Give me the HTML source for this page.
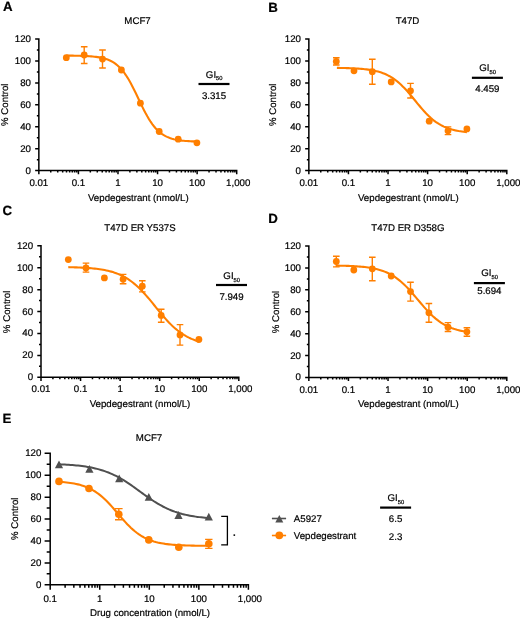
<!DOCTYPE html>
<html><head><meta charset="utf-8"><style>
html,body{margin:0;padding:0;background:#fff;}
svg{display:block;will-change:transform;}
text{font-family:"Liberation Sans",sans-serif;fill:#000;text-rendering:geometricPrecision;stroke:#000;stroke-width:0.2px;}
</style></head><body>
<svg width="520" height="619" viewBox="0 0 520 619">
<rect width="520" height="619" fill="#fff"/>
<path d="M38.85,38.35V171.35M35.15,170.60H38.85M36.85,159.64H38.85M35.15,148.68H38.85M36.85,137.72H38.85M35.15,126.77H38.85M36.85,115.81H38.85M35.15,104.85H38.85M36.85,93.89H38.85M35.15,82.93H38.85M36.85,71.97H38.85M35.15,61.02H38.85M36.85,50.06H38.85M35.15,39.10H38.85M38.10,170.60H237.45M38.85,170.60V174.20M50.76,170.60V172.60M57.73,170.60V172.60M62.67,170.60V172.60M66.51,170.60V172.60M69.64,170.60V172.60M72.29,170.60V172.60M74.59,170.60V172.60M76.61,170.60V172.60M78.42,170.60V174.20M90.33,170.60V172.60M97.30,170.60V172.60M102.24,170.60V172.60M106.08,170.60V172.60M109.21,170.60V172.60M111.86,170.60V172.60M114.16,170.60V172.60M116.18,170.60V172.60M117.99,170.60V174.20M129.90,170.60V172.60M136.87,170.60V172.60M141.81,170.60V172.60M145.65,170.60V172.60M148.78,170.60V172.60M151.43,170.60V172.60M153.73,170.60V172.60M155.75,170.60V172.60M157.56,170.60V174.20M169.47,170.60V172.60M176.44,170.60V172.60M181.38,170.60V172.60M185.22,170.60V172.60M188.35,170.60V172.60M191.00,170.60V172.60M193.30,170.60V172.60M195.32,170.60V172.60M197.13,170.60V174.20M209.04,170.60V172.60M216.01,170.60V172.60M220.95,170.60V172.60M224.79,170.60V172.60M227.92,170.60V172.60M230.57,170.60V172.60M232.87,170.60V172.60M234.89,170.60V172.60M236.70,170.60V174.20" stroke="#000" stroke-width="1.5" fill="none"/>
<text x="30.95" y="173.60" font-size="9.7" text-anchor="end">0</text>
<text x="30.95" y="151.68" font-size="9.7" text-anchor="end">20</text>
<text x="30.95" y="129.77" font-size="9.7" text-anchor="end">40</text>
<text x="30.95" y="107.85" font-size="9.7" text-anchor="end">60</text>
<text x="30.95" y="85.93" font-size="9.7" text-anchor="end">80</text>
<text x="30.95" y="64.02" font-size="9.7" text-anchor="end">100</text>
<text x="30.95" y="42.10" font-size="9.7" text-anchor="end">120</text>
<text x="38.85" y="185.70" font-size="9.7" text-anchor="middle">0.01</text>
<text x="78.42" y="185.70" font-size="9.7" text-anchor="middle">0.1</text>
<text x="117.99" y="185.70" font-size="9.7" text-anchor="middle">1</text>
<text x="157.56" y="185.70" font-size="9.7" text-anchor="middle">10</text>
<text x="197.13" y="185.70" font-size="9.7" text-anchor="middle">100</text>
<text x="238.20" y="185.70" font-size="9.7" text-anchor="middle">1,000</text>
<path d="M308.85,38.35V171.35M305.15,170.60H308.85M306.85,159.64H308.85M305.15,148.68H308.85M306.85,137.72H308.85M305.15,126.77H308.85M306.85,115.81H308.85M305.15,104.85H308.85M306.85,93.89H308.85M305.15,82.93H308.85M306.85,71.97H308.85M305.15,61.02H308.85M306.85,50.06H308.85M305.15,39.10H308.85M308.10,170.60H507.55M308.85,170.60V174.20M320.77,170.60V172.60M327.74,170.60V172.60M332.69,170.60V172.60M336.52,170.60V172.60M339.66,170.60V172.60M342.31,170.60V172.60M344.60,170.60V172.60M346.63,170.60V172.60M348.44,170.60V174.20M360.36,170.60V172.60M367.33,170.60V172.60M372.28,170.60V172.60M376.11,170.60V172.60M379.25,170.60V172.60M381.90,170.60V172.60M384.19,170.60V172.60M386.22,170.60V172.60M388.03,170.60V174.20M399.95,170.60V172.60M406.92,170.60V172.60M411.87,170.60V172.60M415.70,170.60V172.60M418.84,170.60V172.60M421.49,170.60V172.60M423.78,170.60V172.60M425.81,170.60V172.60M427.62,170.60V174.20M439.54,170.60V172.60M446.51,170.60V172.60M451.46,170.60V172.60M455.29,170.60V172.60M458.43,170.60V172.60M461.08,170.60V172.60M463.37,170.60V172.60M465.40,170.60V172.60M467.21,170.60V174.20M479.13,170.60V172.60M486.10,170.60V172.60M491.05,170.60V172.60M494.88,170.60V172.60M498.02,170.60V172.60M500.67,170.60V172.60M502.96,170.60V172.60M504.99,170.60V172.60M506.80,170.60V174.20" stroke="#000" stroke-width="1.5" fill="none"/>
<text x="300.95" y="173.60" font-size="9.7" text-anchor="end">0</text>
<text x="300.95" y="151.68" font-size="9.7" text-anchor="end">20</text>
<text x="300.95" y="129.77" font-size="9.7" text-anchor="end">40</text>
<text x="300.95" y="107.85" font-size="9.7" text-anchor="end">60</text>
<text x="300.95" y="85.93" font-size="9.7" text-anchor="end">80</text>
<text x="300.95" y="64.02" font-size="9.7" text-anchor="end">100</text>
<text x="300.95" y="42.10" font-size="9.7" text-anchor="end">120</text>
<text x="308.85" y="185.70" font-size="9.7" text-anchor="middle">0.01</text>
<text x="348.44" y="185.70" font-size="9.7" text-anchor="middle">0.1</text>
<text x="388.03" y="185.70" font-size="9.7" text-anchor="middle">1</text>
<text x="427.62" y="185.70" font-size="9.7" text-anchor="middle">10</text>
<text x="467.21" y="185.70" font-size="9.7" text-anchor="middle">100</text>
<text x="508.30" y="185.70" font-size="9.7" text-anchor="middle">1,000</text>
<path d="M41.00,245.05V378.05M37.30,377.30H41.00M39.00,366.34H41.00M37.30,355.38H41.00M39.00,344.43H41.00M37.30,333.47H41.00M39.00,322.51H41.00M37.30,311.55H41.00M39.00,300.59H41.00M37.30,289.63H41.00M39.00,278.68H41.00M37.30,267.72H41.00M39.00,256.76H41.00M37.30,245.80H41.00M40.25,377.30H239.55M41.00,377.30V380.90M52.91,377.30V379.30M59.87,377.30V379.30M64.82,377.30V379.30M68.65,377.30V379.30M71.78,377.30V379.30M74.43,377.30V379.30M76.73,377.30V379.30M78.75,377.30V379.30M80.56,377.30V380.90M92.47,377.30V379.30M99.43,377.30V379.30M104.38,377.30V379.30M108.21,377.30V379.30M111.34,377.30V379.30M113.99,377.30V379.30M116.29,377.30V379.30M118.31,377.30V379.30M120.12,377.30V380.90M132.03,377.30V379.30M138.99,377.30V379.30M143.94,377.30V379.30M147.77,377.30V379.30M150.90,377.30V379.30M153.55,377.30V379.30M155.85,377.30V379.30M157.87,377.30V379.30M159.68,377.30V380.90M171.59,377.30V379.30M178.55,377.30V379.30M183.50,377.30V379.30M187.33,377.30V379.30M190.46,377.30V379.30M193.11,377.30V379.30M195.41,377.30V379.30M197.43,377.30V379.30M199.24,377.30V380.90M211.15,377.30V379.30M218.11,377.30V379.30M223.06,377.30V379.30M226.89,377.30V379.30M230.02,377.30V379.30M232.67,377.30V379.30M234.97,377.30V379.30M236.99,377.30V379.30M238.80,377.30V380.90" stroke="#000" stroke-width="1.5" fill="none"/>
<text x="33.10" y="380.30" font-size="9.7" text-anchor="end">0</text>
<text x="33.10" y="358.38" font-size="9.7" text-anchor="end">20</text>
<text x="33.10" y="336.47" font-size="9.7" text-anchor="end">40</text>
<text x="33.10" y="314.55" font-size="9.7" text-anchor="end">60</text>
<text x="33.10" y="292.63" font-size="9.7" text-anchor="end">80</text>
<text x="33.10" y="270.72" font-size="9.7" text-anchor="end">100</text>
<text x="33.10" y="248.80" font-size="9.7" text-anchor="end">120</text>
<text x="41.00" y="392.40" font-size="9.7" text-anchor="middle">0.01</text>
<text x="80.56" y="392.40" font-size="9.7" text-anchor="middle">0.1</text>
<text x="120.12" y="392.40" font-size="9.7" text-anchor="middle">1</text>
<text x="159.68" y="392.40" font-size="9.7" text-anchor="middle">10</text>
<text x="199.24" y="392.40" font-size="9.7" text-anchor="middle">100</text>
<text x="240.30" y="392.40" font-size="9.7" text-anchor="middle">1,000</text>
<path d="M308.85,245.35V378.15M305.15,377.40H308.85M306.85,366.46H308.85M305.15,355.52H308.85M306.85,344.57H308.85M305.15,333.63H308.85M306.85,322.69H308.85M305.15,311.75H308.85M306.85,300.81H308.85M305.15,289.87H308.85M306.85,278.93H308.85M305.15,267.98H308.85M306.85,257.04H308.85M305.15,246.10H308.85M308.10,377.40H507.55M308.85,377.40V381.00M320.77,377.40V379.40M327.74,377.40V379.40M332.69,377.40V379.40M336.52,377.40V379.40M339.66,377.40V379.40M342.31,377.40V379.40M344.60,377.40V379.40M346.63,377.40V379.40M348.44,377.40V381.00M360.36,377.40V379.40M367.33,377.40V379.40M372.28,377.40V379.40M376.11,377.40V379.40M379.25,377.40V379.40M381.90,377.40V379.40M384.19,377.40V379.40M386.22,377.40V379.40M388.03,377.40V381.00M399.95,377.40V379.40M406.92,377.40V379.40M411.87,377.40V379.40M415.70,377.40V379.40M418.84,377.40V379.40M421.49,377.40V379.40M423.78,377.40V379.40M425.81,377.40V379.40M427.62,377.40V381.00M439.54,377.40V379.40M446.51,377.40V379.40M451.46,377.40V379.40M455.29,377.40V379.40M458.43,377.40V379.40M461.08,377.40V379.40M463.37,377.40V379.40M465.40,377.40V379.40M467.21,377.40V381.00M479.13,377.40V379.40M486.10,377.40V379.40M491.05,377.40V379.40M494.88,377.40V379.40M498.02,377.40V379.40M500.67,377.40V379.40M502.96,377.40V379.40M504.99,377.40V379.40M506.80,377.40V381.00" stroke="#000" stroke-width="1.5" fill="none"/>
<text x="300.95" y="380.40" font-size="9.7" text-anchor="end">0</text>
<text x="300.95" y="358.52" font-size="9.7" text-anchor="end">20</text>
<text x="300.95" y="336.63" font-size="9.7" text-anchor="end">40</text>
<text x="300.95" y="314.75" font-size="9.7" text-anchor="end">60</text>
<text x="300.95" y="292.87" font-size="9.7" text-anchor="end">80</text>
<text x="300.95" y="270.98" font-size="9.7" text-anchor="end">100</text>
<text x="300.95" y="249.10" font-size="9.7" text-anchor="end">120</text>
<text x="308.85" y="392.50" font-size="9.7" text-anchor="middle">0.01</text>
<text x="348.44" y="392.50" font-size="9.7" text-anchor="middle">0.1</text>
<text x="388.03" y="392.50" font-size="9.7" text-anchor="middle">1</text>
<text x="427.62" y="392.50" font-size="9.7" text-anchor="middle">10</text>
<text x="467.21" y="392.50" font-size="9.7" text-anchor="middle">100</text>
<text x="508.30" y="392.50" font-size="9.7" text-anchor="middle">1,000</text>
<path d="M50.20,452.55V585.55M44.60,584.80H50.20M46.70,573.84H50.20M44.60,562.88H50.20M46.70,551.92H50.20M44.60,540.97H50.20M46.70,530.01H50.20M44.60,519.05H50.20M46.70,508.09H50.20M44.60,497.13H50.20M46.70,486.18H50.20M44.60,475.22H50.20M46.70,464.26H50.20M44.60,453.30H50.20M49.45,584.80H249.15M50.20,584.80V589.70M65.12,584.80V587.70M73.84,584.80V587.70M80.03,584.80V587.70M84.83,584.80V587.70M88.76,584.80V587.70M92.07,584.80V587.70M94.95,584.80V587.70M97.48,584.80V587.70M99.75,584.80V589.70M114.67,584.80V587.70M123.39,584.80V587.70M129.58,584.80V587.70M134.38,584.80V587.70M138.31,584.80V587.70M141.62,584.80V587.70M144.50,584.80V587.70M147.03,584.80V587.70M149.30,584.80V589.70M164.22,584.80V587.70M172.94,584.80V587.70M179.13,584.80V587.70M183.93,584.80V587.70M187.86,584.80V587.70M191.17,584.80V587.70M194.05,584.80V587.70M196.58,584.80V587.70M198.85,584.80V589.70M213.77,584.80V587.70M222.49,584.80V587.70M228.68,584.80V587.70M233.48,584.80V587.70M237.41,584.80V587.70M240.72,584.80V587.70M243.60,584.80V587.70M246.13,584.80V587.70M248.40,584.80V589.70" stroke="#000" stroke-width="1.5" fill="none"/>
<text x="41.40" y="587.80" font-size="9.7" text-anchor="end">0</text>
<text x="41.40" y="565.88" font-size="9.7" text-anchor="end">20</text>
<text x="41.40" y="543.97" font-size="9.7" text-anchor="end">40</text>
<text x="41.40" y="522.05" font-size="9.7" text-anchor="end">60</text>
<text x="41.40" y="500.13" font-size="9.7" text-anchor="end">80</text>
<text x="41.40" y="478.22" font-size="9.7" text-anchor="end">100</text>
<text x="41.40" y="456.30" font-size="9.7" text-anchor="end">120</text>
<text x="50.20" y="602.10" font-size="9.7" text-anchor="middle">0.1</text>
<text x="99.75" y="602.10" font-size="9.7" text-anchor="middle">1</text>
<text x="149.30" y="602.10" font-size="9.7" text-anchor="middle">10</text>
<text x="198.85" y="602.10" font-size="9.7" text-anchor="middle">100</text>
<text x="249.90" y="602.10" font-size="9.7" text-anchor="middle">1,000</text>
<text x="3.00" y="11.40" font-size="13.3" font-weight="bold">A</text>
<text x="268.20" y="11.70" font-size="13.3" font-weight="bold">B</text>
<text x="2.60" y="215.40" font-size="13.3" font-weight="bold">C</text>
<text x="268.20" y="222.50" font-size="13.3" font-weight="bold">D</text>
<text x="2.50" y="422.50" font-size="13.3" font-weight="bold">E</text>
<text x="137.50" y="24.00" font-size="9.7" text-anchor="middle">MCF7</text>
<text x="407.50" y="23.90" font-size="9.7" text-anchor="middle">T47D</text>
<text x="140.00" y="230.70" font-size="9.7" text-anchor="middle">T47D ER Y537S</text>
<text x="407.90" y="230.70" font-size="9.7" text-anchor="middle">T47D ER D358G</text>
<text x="149.00" y="441.30" font-size="9.7" text-anchor="middle">MCF7</text>
<text x="138.30" y="200.80" font-size="9.7" text-anchor="middle">Vepdegestrant (nmol/L)</text>
<text x="408.30" y="200.80" font-size="9.7" text-anchor="middle">Vepdegestrant (nmol/L)</text>
<text x="140.00" y="407.00" font-size="9.7" text-anchor="middle">Vepdegestrant (nmol/L)</text>
<text x="408.30" y="407.00" font-size="9.7" text-anchor="middle">Vepdegestrant (nmol/L)</text>
<text x="150.00" y="616.40" font-size="9.7" text-anchor="middle">Drug concentration (nmol/L)</text>
<text x="8.20" y="104.80" font-size="9.7" text-anchor="middle" transform="rotate(-90 8.20 104.80)">% Control</text>
<text x="276.50" y="104.80" font-size="9.7" text-anchor="middle" transform="rotate(-90 276.50 104.80)">% Control</text>
<text x="10.40" y="311.90" font-size="9.7" text-anchor="middle" transform="rotate(-90 10.40 311.90)">% Control</text>
<text x="278.70" y="312.00" font-size="9.7" text-anchor="middle" transform="rotate(-90 278.70 312.00)">% Control</text>
<text x="18.20" y="518.80" font-size="9.7" text-anchor="middle" transform="rotate(-90 18.20 518.80)">% Control</text>
<path d="M66.30,55.59 L67.95,55.60 L69.61,55.61 L71.26,55.63 L72.91,55.65 L74.57,55.68 L76.22,55.71 L77.87,55.74 L79.53,55.78 L81.18,55.83 L82.83,55.89 L84.48,55.95 L86.14,56.03 L87.79,56.12 L89.44,56.23 L91.10,56.35 L92.75,56.50 L94.40,56.67 L96.06,56.87 L97.71,57.10 L99.36,57.37 L101.02,57.69 L102.67,58.06 L104.32,58.50 L105.98,59.00 L107.63,59.58 L109.28,60.25 L110.94,61.03 L112.59,61.93 L114.24,62.95 L115.89,64.13 L117.55,65.46 L119.20,66.98 L120.85,68.68 L122.51,70.58 L124.16,72.70 L125.81,75.03 L127.47,77.57 L129.12,80.33 L130.77,83.28 L132.43,86.40 L134.08,89.67 L135.73,93.05 L137.39,96.51 L139.04,99.99 L140.69,103.45 L142.35,106.86 L144.00,110.16 L145.65,113.32 L147.31,116.31 L148.96,119.11 L150.61,121.71 L152.26,124.09 L153.92,126.26 L155.57,128.21 L157.22,129.96 L158.88,131.51 L160.53,132.89 L162.18,134.10 L163.84,135.16 L165.49,136.09 L167.14,136.89 L168.80,137.59 L170.45,138.19 L172.10,138.71 L173.76,139.16 L175.41,139.54 L177.06,139.87 L178.72,140.16 L180.37,140.40 L182.02,140.61 L183.67,140.78 L185.33,140.93 L186.98,141.06 L188.63,141.17 L190.29,141.27 L191.94,141.35 L193.59,141.42 L195.25,141.47 L196.90,141.52" stroke="#FF7F00" stroke-width="2.1" fill="none"/>
<path d="M84.20,46.70V63.50M80.90,46.70H87.50M80.90,63.50H87.50" stroke="#FF7F00" stroke-width="1.4" fill="none"/>
<path d="M102.50,50.00V68.00M99.20,50.00H105.80M99.20,68.00H105.80" stroke="#FF7F00" stroke-width="1.4" fill="none"/>
<circle cx="66.30" cy="57.70" r="3.4" fill="#FF7F00"/>
<circle cx="84.20" cy="55.00" r="3.4" fill="#FF7F00"/>
<circle cx="102.50" cy="59.10" r="3.4" fill="#FF7F00"/>
<circle cx="121.40" cy="70.00" r="3.4" fill="#FF7F00"/>
<circle cx="140.40" cy="103.20" r="3.4" fill="#FF7F00"/>
<circle cx="159.20" cy="131.50" r="3.4" fill="#FF7F00"/>
<circle cx="178.20" cy="139.20" r="3.4" fill="#FF7F00"/>
<circle cx="196.90" cy="142.80" r="3.4" fill="#FF7F00"/>
<text x="214.20" y="77.50" font-size="9.7" text-anchor="middle">GI<tspan font-size="5.8" dy="2.9">50</tspan></text>
<rect x="198.50" y="82.90" width="31" height="2.2" fill="#000"/>
<text x="214.00" y="98.50" font-size="9.7" text-anchor="middle">3.315</text>
<path d="M336.90,67.89 L338.55,67.91 L340.19,67.94 L341.84,67.97 L343.48,68.01 L345.13,68.05 L346.77,68.09 L348.42,68.15 L350.06,68.20 L351.71,68.27 L353.36,68.35 L355.00,68.43 L356.65,68.52 L358.29,68.63 L359.94,68.75 L361.58,68.89 L363.23,69.04 L364.87,69.21 L366.52,69.40 L368.17,69.62 L369.81,69.86 L371.46,70.14 L373.10,70.44 L374.75,70.78 L376.39,71.16 L378.04,71.59 L379.68,72.07 L381.33,72.59 L382.98,73.18 L384.62,73.83 L386.27,74.55 L387.91,75.34 L389.56,76.21 L391.20,77.16 L392.85,78.20 L394.49,79.33 L396.14,80.55 L397.79,81.86 L399.43,83.28 L401.08,84.78 L402.72,86.38 L404.37,88.06 L406.01,89.83 L407.66,91.67 L409.31,93.57 L410.95,95.52 L412.60,97.50 L414.24,99.51 L415.89,101.53 L417.53,103.54 L419.18,105.53 L420.82,107.48 L422.47,109.39 L424.12,111.23 L425.76,113.00 L427.41,114.69 L429.05,116.30 L430.70,117.81 L432.34,119.23 L433.99,120.55 L435.63,121.78 L437.28,122.92 L438.93,123.96 L440.57,124.92 L442.22,125.79 L443.86,126.59 L445.51,127.31 L447.15,127.97 L448.80,128.56 L450.44,129.09 L452.09,129.57 L453.74,130.00 L455.38,130.39 L457.03,130.73 L458.67,131.04 L460.32,131.31 L461.96,131.56 L463.61,131.78 L465.25,131.97 L466.90,132.14" stroke="#FF7F00" stroke-width="2.1" fill="none"/>
<path d="M336.30,57.70V65.00M333.00,57.70H339.60M333.00,65.00H339.60" stroke="#FF7F00" stroke-width="1.4" fill="none"/>
<path d="M372.30,59.20V84.20M369.00,59.20H375.60M369.00,84.20H375.60" stroke="#FF7F00" stroke-width="1.4" fill="none"/>
<path d="M410.50,83.40V98.00M407.20,83.40H413.80M407.20,98.00H413.80" stroke="#FF7F00" stroke-width="1.4" fill="none"/>
<path d="M448.00,126.90V134.60M444.70,126.90H451.30M444.70,134.60H451.30" stroke="#FF7F00" stroke-width="1.4" fill="none"/>
<circle cx="336.30" cy="61.50" r="3.4" fill="#FF7F00"/>
<circle cx="354.00" cy="70.80" r="3.4" fill="#FF7F00"/>
<circle cx="372.30" cy="71.70" r="3.4" fill="#FF7F00"/>
<circle cx="391.20" cy="81.90" r="3.4" fill="#FF7F00"/>
<circle cx="410.50" cy="90.80" r="3.4" fill="#FF7F00"/>
<circle cx="429.20" cy="121.20" r="3.4" fill="#FF7F00"/>
<circle cx="448.00" cy="130.80" r="3.4" fill="#FF7F00"/>
<circle cx="466.90" cy="128.90" r="3.4" fill="#FF7F00"/>
<text x="487.60" y="70.60" font-size="9.7" text-anchor="middle">GI<tspan font-size="5.8" dy="2.9">50</tspan></text>
<rect x="471.90" y="76.70" width="31" height="2.2" fill="#000"/>
<text x="487.40" y="92.00" font-size="9.7" text-anchor="middle">4.459</text>
<path d="M68.30,267.16 L69.95,267.20 L71.61,267.24 L73.26,267.28 L74.91,267.34 L76.57,267.39 L78.22,267.46 L79.87,267.53 L81.53,267.60 L83.18,267.69 L84.83,267.78 L86.48,267.89 L88.14,268.00 L89.79,268.13 L91.44,268.27 L93.10,268.43 L94.75,268.60 L96.40,268.79 L98.06,269.00 L99.71,269.23 L101.36,269.48 L103.02,269.76 L104.67,270.07 L106.32,270.41 L107.98,270.78 L109.63,271.18 L111.28,271.63 L112.94,272.11 L114.59,272.65 L116.24,273.23 L117.89,273.86 L119.55,274.55 L121.20,275.30 L122.85,276.11 L124.51,276.99 L126.16,277.94 L127.81,278.96 L129.47,280.06 L131.12,281.24 L132.77,282.49 L134.43,283.83 L136.08,285.24 L137.73,286.74 L139.39,288.31 L141.04,289.96 L142.69,291.69 L144.35,293.48 L146.00,295.33 L147.65,297.24 L149.31,299.19 L150.96,301.19 L152.61,303.21 L154.26,305.25 L155.92,307.29 L157.57,309.33 L159.22,311.36 L160.88,313.36 L162.53,315.33 L164.18,317.26 L165.84,319.13 L167.49,320.94 L169.14,322.69 L170.80,324.37 L172.45,325.97 L174.10,327.49 L175.76,328.93 L177.41,330.29 L179.06,331.58 L180.72,332.78 L182.37,333.90 L184.02,334.95 L185.67,335.92 L187.33,336.82 L188.98,337.66 L190.63,338.43 L192.29,339.14 L193.94,339.79 L195.59,340.39 L197.25,340.94 L198.90,341.44" stroke="#FF7F00" stroke-width="2.1" fill="none"/>
<path d="M86.00,263.10V272.10M82.70,263.10H89.30M82.70,272.10H89.30" stroke="#FF7F00" stroke-width="1.4" fill="none"/>
<path d="M123.10,274.40V283.70M119.80,274.40H126.40M119.80,283.70H126.40" stroke="#FF7F00" stroke-width="1.4" fill="none"/>
<path d="M142.30,280.80V291.90M139.00,280.80H145.60M139.00,291.90H145.60" stroke="#FF7F00" stroke-width="1.4" fill="none"/>
<path d="M161.20,309.20V322.30M157.90,309.20H164.50M157.90,322.30H164.50" stroke="#FF7F00" stroke-width="1.4" fill="none"/>
<path d="M180.00,324.60V345.10M176.70,324.60H183.30M176.70,345.10H183.30" stroke="#FF7F00" stroke-width="1.4" fill="none"/>
<circle cx="68.30" cy="259.60" r="3.4" fill="#FF7F00"/>
<circle cx="86.00" cy="267.90" r="3.4" fill="#FF7F00"/>
<circle cx="104.40" cy="277.90" r="3.4" fill="#FF7F00"/>
<circle cx="123.10" cy="279.20" r="3.4" fill="#FF7F00"/>
<circle cx="142.30" cy="286.20" r="3.4" fill="#FF7F00"/>
<circle cx="161.20" cy="315.40" r="3.4" fill="#FF7F00"/>
<circle cx="180.00" cy="334.90" r="3.4" fill="#FF7F00"/>
<circle cx="198.90" cy="339.50" r="3.4" fill="#FF7F00"/>
<text x="231.70" y="278.95" font-size="9.7" text-anchor="middle">GI<tspan font-size="5.8" dy="2.9">50</tspan></text>
<rect x="216.00" y="283.90" width="31" height="2.2" fill="#000"/>
<text x="231.50" y="299.50" font-size="9.7" text-anchor="middle">7.949</text>
<path d="M336.90,265.61 L338.55,265.64 L340.19,265.68 L341.84,265.72 L343.48,265.76 L345.13,265.80 L346.77,265.86 L348.42,265.92 L350.06,265.98 L351.71,266.06 L353.36,266.14 L355.00,266.23 L356.65,266.34 L358.29,266.45 L359.94,266.58 L361.58,266.73 L363.23,266.89 L364.87,267.07 L366.52,267.27 L368.17,267.49 L369.81,267.74 L371.46,268.01 L373.10,268.32 L374.75,268.66 L376.39,269.04 L378.04,269.46 L379.68,269.92 L381.33,270.43 L382.98,270.99 L384.62,271.61 L386.27,272.29 L387.91,273.03 L389.56,273.84 L391.20,274.73 L392.85,275.69 L394.49,276.73 L396.14,277.85 L397.79,279.06 L399.43,280.35 L401.08,281.73 L402.72,283.20 L404.37,284.74 L406.01,286.37 L407.66,288.07 L409.31,289.84 L410.95,291.66 L412.60,293.54 L414.24,295.45 L415.89,297.39 L417.53,299.35 L419.18,301.30 L420.82,303.25 L422.47,305.18 L424.12,307.07 L425.76,308.91 L427.41,310.70 L429.05,312.43 L430.70,314.08 L432.34,315.66 L433.99,317.16 L435.63,318.57 L437.28,319.90 L438.93,321.14 L440.57,322.29 L442.22,323.36 L443.86,324.35 L445.51,325.27 L447.15,326.11 L448.80,326.88 L450.44,327.58 L452.09,328.22 L453.74,328.80 L455.38,329.33 L457.03,329.81 L458.67,330.24 L460.32,330.64 L461.96,330.99 L463.61,331.31 L465.25,331.60 L466.90,331.86" stroke="#FF7F00" stroke-width="2.1" fill="none"/>
<path d="M336.30,256.30V266.90M333.00,256.30H339.60M333.00,266.90H339.60" stroke="#FF7F00" stroke-width="1.4" fill="none"/>
<path d="M372.30,257.30V280.80M369.00,257.30H375.60M369.00,280.80H375.60" stroke="#FF7F00" stroke-width="1.4" fill="none"/>
<path d="M410.50,282.30V301.10M407.20,282.30H413.80M407.20,301.10H413.80" stroke="#FF7F00" stroke-width="1.4" fill="none"/>
<path d="M428.90,303.50V322.30M425.60,303.50H432.20M425.60,322.30H432.20" stroke="#FF7F00" stroke-width="1.4" fill="none"/>
<path d="M448.00,322.60V331.50M444.70,322.60H451.30M444.70,331.50H451.30" stroke="#FF7F00" stroke-width="1.4" fill="none"/>
<path d="M466.90,327.70V336.20M463.60,327.70H470.20M463.60,336.20H470.20" stroke="#FF7F00" stroke-width="1.4" fill="none"/>
<circle cx="336.30" cy="261.50" r="3.4" fill="#FF7F00"/>
<circle cx="353.80" cy="270.00" r="3.4" fill="#FF7F00"/>
<circle cx="372.30" cy="268.80" r="3.4" fill="#FF7F00"/>
<circle cx="391.20" cy="276.00" r="3.4" fill="#FF7F00"/>
<circle cx="410.50" cy="291.60" r="3.4" fill="#FF7F00"/>
<circle cx="428.90" cy="312.80" r="3.4" fill="#FF7F00"/>
<circle cx="448.00" cy="327.20" r="3.4" fill="#FF7F00"/>
<circle cx="466.90" cy="331.80" r="3.4" fill="#FF7F00"/>
<text x="489.60" y="276.40" font-size="9.7" text-anchor="middle">GI<tspan font-size="5.8" dy="2.9">50</tspan></text>
<rect x="473.90" y="282.00" width="31" height="2.2" fill="#000"/>
<text x="489.40" y="293.80" font-size="9.7" text-anchor="middle">5.694</text>
<path d="M59.20,464.30 L61.09,464.38 L62.99,464.47 L64.88,464.57 L66.77,464.69 L68.67,464.81 L70.56,464.94 L72.46,465.09 L74.35,465.25 L76.24,465.43 L78.14,465.62 L80.03,465.84 L81.92,466.07 L83.82,466.33 L85.71,466.60 L87.61,466.91 L89.50,467.24 L91.39,467.60 L93.29,468.00 L95.18,468.42 L97.07,468.89 L98.97,469.39 L100.86,469.93 L102.75,470.52 L104.65,471.15 L106.54,471.82 L108.44,472.55 L110.33,473.32 L112.22,474.15 L114.12,475.03 L116.01,475.96 L117.90,476.94 L119.80,477.98 L121.69,479.07 L123.58,480.20 L125.48,481.38 L127.37,482.61 L129.27,483.87 L131.16,485.17 L133.05,486.49 L134.95,487.84 L136.84,489.21 L138.73,490.59 L140.63,491.97 L142.52,493.35 L144.42,494.73 L146.31,496.08 L148.20,497.42 L150.10,498.73 L151.99,500.00 L153.88,501.24 L155.78,502.44 L157.67,503.59 L159.56,504.69 L161.46,505.74 L163.35,506.75 L165.25,507.70 L167.14,508.59 L169.03,509.44 L170.93,510.23 L172.82,510.97 L174.71,511.67 L176.61,512.31 L178.50,512.91 L180.39,513.47 L182.29,513.99 L184.18,514.46 L186.08,514.90 L187.97,515.31 L189.86,515.68 L191.76,516.02 L193.65,516.34 L195.54,516.62 L197.44,516.89 L199.33,517.13 L201.23,517.35 L203.12,517.55 L205.01,517.73 L206.91,517.90 L208.80,518.05" stroke="#505050" stroke-width="2.0" fill="none"/>
<path d="M59.00,460.41L63.10,468.19L54.90,468.19Z" fill="#505050"/>
<path d="M89.40,464.91L93.50,472.69L85.30,472.69Z" fill="#505050"/>
<path d="M119.20,474.41L123.30,482.19L115.10,482.19Z" fill="#505050"/>
<path d="M148.80,492.91L152.90,500.69L144.70,500.69Z" fill="#505050"/>
<path d="M178.50,511.11L182.60,518.89L174.40,518.89Z" fill="#505050"/>
<path d="M208.80,512.81L212.90,520.60L204.70,520.60Z" fill="#505050"/>
<path d="M59.00,481.78 L60.90,481.91 L62.79,482.07 L64.69,482.24 L66.58,482.44 L68.48,482.67 L70.38,482.93 L72.27,483.22 L74.17,483.56 L76.07,483.94 L77.96,484.36 L79.86,484.85 L81.75,485.39 L83.65,486.01 L85.55,486.69 L87.44,487.46 L89.34,488.32 L91.24,489.27 L93.13,490.33 L95.03,491.49 L96.92,492.76 L98.82,494.14 L100.72,495.65 L102.61,497.27 L104.51,499.00 L106.41,500.84 L108.30,502.77 L110.20,504.80 L112.09,506.90 L113.99,509.06 L115.89,511.26 L117.78,513.48 L119.68,515.69 L121.57,517.89 L123.47,520.04 L125.37,522.14 L127.26,524.16 L129.16,526.09 L131.06,527.92 L132.95,529.64 L134.85,531.25 L136.74,532.74 L138.64,534.12 L140.54,535.38 L142.43,536.53 L144.33,537.57 L146.23,538.52 L148.12,539.37 L150.02,540.13 L151.91,540.81 L153.81,541.42 L155.71,541.96 L157.60,542.44 L159.50,542.86 L161.39,543.23 L163.29,543.56 L165.19,543.86 L167.08,544.11 L168.98,544.34 L170.88,544.53 L172.77,544.71 L174.67,544.86 L176.56,544.99 L178.46,545.11 L180.36,545.21 L182.25,545.30 L184.15,545.38 L186.05,545.45 L187.94,545.51 L189.84,545.56 L191.73,545.61 L193.63,545.65 L195.53,545.68 L197.42,545.71 L199.32,545.74 L201.22,545.76 L203.11,545.78 L205.01,545.80 L206.90,545.82 L208.80,545.83" stroke="#FF7F00" stroke-width="2.1" fill="none"/>
<path d="M118.80,508.60V519.80M115.00,508.60H122.60M115.00,519.80H122.60" stroke="#FF7F00" stroke-width="1.4" fill="none"/>
<path d="M208.80,539.40V548.40M205.10,539.40H212.50M205.10,548.40H212.50" stroke="#FF7F00" stroke-width="1.4" fill="none"/>
<circle cx="59.00" cy="481.40" r="3.8" fill="#FF7F00"/>
<circle cx="89.00" cy="488.50" r="3.8" fill="#FF7F00"/>
<circle cx="118.80" cy="514.30" r="3.8" fill="#FF7F00"/>
<circle cx="148.80" cy="539.90" r="3.8" fill="#FF7F00"/>
<circle cx="178.80" cy="547.30" r="3.8" fill="#FF7F00"/>
<circle cx="208.80" cy="543.80" r="3.8" fill="#FF7F00"/>
<path d="M221.2,516.3H227.4V544.9H221.2" stroke="#000" stroke-width="1.3" fill="none"/>
<circle cx="234.3" cy="535.1" r="0.95" fill="#000"/>
<line x1="271.90" y1="518.50" x2="286.10" y2="518.50" stroke="#505050" stroke-width="1.6"/>
<path d="M279.30,514.90L283.30,522.50L275.30,522.50Z" fill="#505050"/>
<text x="293.80" y="522.40" font-size="9.7">A5927</text>
<line x1="271.90" y1="535.50" x2="286.10" y2="535.50" stroke="#FF7F00" stroke-width="1.6"/>
<circle cx="279.30" cy="535.30" r="3.9" fill="#FF7F00"/>
<text x="293.80" y="539.20" font-size="9.7">Vepdegestrant</text>
<text x="395.80" y="501.00" font-size="9.7" text-anchor="middle">GI<tspan font-size="5.8" dy="2.9">50</tspan></text>
<rect x="380.10" y="506.50" width="31" height="2.2" fill="#000"/>
<text x="395.60" y="522.30" font-size="9.7" text-anchor="middle">6.5</text>
<text x="395.60" y="539.50" font-size="9.7" text-anchor="middle">2.3</text>
</svg></body></html>
